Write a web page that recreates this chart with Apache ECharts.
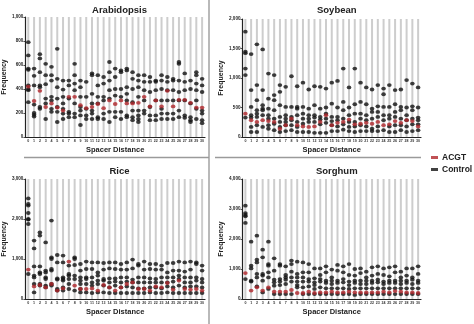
<!DOCTYPE html>
<html><head><meta charset="utf-8">
<script src="https://cdn.jsdelivr.net/npm/echarts@6/dist/echarts.min.js"></script>
<style>html,body{margin:0;padding:0;background:#fff}#c{width:474px;height:324px}</style>
</head><body><div id="c"></div>
<script>
const categories = ['0','1','2','3','4','5','6','7','8','9','10','11','12','13','14','15','16','17','18','19','20','21','22','23','24','25','26','27','28','29','30'];
const panelTitles = ['Arabidopsis','Soybean','Rice','Sorghum'];
const yMax = [1000, 2000, 3000, 4000];
const yInterval = [200, 500, 1000, 1000];

const arabidopsisControl = [
 [790,680,570,560,430,400,390,290],[570,510,430,270,200,185,170],[690,655,540,430,415,250,235],
 [610,515,440,320,280,150],[585,515,470,335,305,235,210],[735,485,415,320,250,210,125],
 [470,395,335,280,235,195,150],[470,430,320,210,195,165],[610,515,445,390,280,195,165],
 [470,415,335,250,220,180,100],[460,335,235,180,150],[530,515,360,280,220,195,150],
 [515,430,335,280,165,150],[500,445,335,305,195,150],[625,540,470,390,320,210,125],
 [570,500,400,345,210,165],[555,540,400,335,210,150],[570,555,415,360,305,180,165],
 [540,485,400,290,220,165,140],[515,470,415,335,220,180,150,125],[515,460,390,305,220,195],
 [500,460,375,250,180,140],[470,460,390,305,180,140],[515,470,400,305,235,195,150],
 [500,460,390,305,195,150],[485,470,390,305,195,150],[625,610,470,375,305,220,165],
 [530,460,390,305,180,160],[470,400,280,165,140,125],[540,515,445,390,305,235,150],
 [485,430,375,220,195,140,115]
];
const arabidopsisACGT = [420,300,385,250,280,245,220,335,335,265,240,250,275,240,305,275,305,280,280,285,335,255,305,255,385,255,310,310,285,245,245];

const soybeanControl = [
 [1785,1445,1420,1160,1050,330],[1405,795,510,370,330,170,85],[1570,880,625,455,395,340,200,85],
 [1485,795,540,480,455,370,170],[1075,650,480,370,310,200,140],[1050,710,625,455,310,225,115],
 [880,765,540,340,255,170,85],[850,510,370,310,255,200,100],[1030,510,340,285,200,115],
 [860,510,480,370,255,170,85],[920,510,395,310,225,85],[805,480,370,310,255,85],
 [860,540,370,330,255,70],[850,480,340,295,215,70],[820,500,395,310,240,70],
 [920,565,340,270,200,100],[950,500,340,285,180,100],[1160,595,455,310,215,125],
 [840,500,370,255,170,100],[1160,555,395,255,180,85],[920,595,395,310,200,100],
 [840,555,370,285,180,100],[805,480,425,310,140,100],[880,520,425,340,180,100],
 [820,725,510,370,285,115],[880,510,370,310,180,85],[795,555,425,340,200,85],
 [805,510,455,310,200,115],[965,500,370,285,180,85],[905,520,455,310,215,100],
 [840,500,330,285,215,115]
];
const soybeanACGT = [395,285,255,285,270,255,140,200,310,200,180,170,180,255,370,200,240,255,295,215,225,240,225,255,200,215,270,240,285,270,180];

const riceControl = [
 [2515,2375,2335,2150,2000,1985,1875,625],[1460,1265,815,585,540,375,165],[1665,1585,815,665,625,375,335],
 [1415,710,665,540,500,335,290],[1960,1040,1000,750,710,375,335],[1100,915,515,485,250,210],
 [1085,915,540,500,460,290,210],[835,625,585,500,375,250],[1040,1000,850,585,500,210],
 [875,710,540,460,375,250,165],[935,750,540,500,375,165],[915,750,540,415,335,150],
 [915,665,585,460,375,165],[900,735,500,460,335,165],[915,765,515,415,290,150],
 [915,750,515,435,335,150],[875,735,540,415,290,150],[915,735,540,435,315,150],
 [985,765,485,415,290,150],[875,835,540,415,265,150],[935,735,540,415,265,150],
 [875,750,515,415,290,165],[875,735,500,415,290,150],[835,735,540,415,265,150],
 [900,665,540,415,315,165],[900,710,540,435,290,150],[935,710,585,500,335,150],
 [915,685,540,415,290,150],[935,735,540,415,315,150],[915,875,540,460,315,150],
 [835,710,500,415,290,150]
];
const riceACGT = [735,315,350,290,375,210,265,935,335,250,250,265,210,350,290,210,290,375,415,250,250,210,315,290,400,235,460,250,235,250,210];

const sorghumControl = [
 [3110,2865,2800,2755,2535,665],[1910,1110,1020,610,580],[2110,1310,1220,835,720,420],
 [1645,1390,835,780,610,220],[1910,1165,1110,890,720,335],[1355,945,645,555,445,165],
 [1165,1110,665,580,465,165],[1090,800,720,645,500,165],[1280,1165,910,720,580,165],
 [1245,835,720,580,465,390],[1220,890,720,580,390,165],[1165,890,665,580,420,165],
 [1020,690,555,465,335,165],[1020,800,665,580,390,165],[1090,890,610,535,355,165],
 [980,720,610,500,355,165],[1135,945,610,535,355,165],[1090,890,665,555,355,165],
 [1165,800,580,465,335,165],[1000,780,610,535,355,135],[1020,865,610,500,355,165],
 [910,720,610,500,355,165],[1055,780,610,535,355,165],[1090,835,645,555,355,165],
 [1020,800,580,500,355,165],[1055,755,610,535,355,165],[1090,890,610,535,355,165],
 [910,720,610,500,355,165],[1020,780,610,535,355,165],[1020,720,645,500,355,165],
 [1090,835,610,535,355,165]
];
const sorghumACGT = [865,280,390,280,390,245,245,245,300,200,200,245,200,220,220,245,220,220,245,220,220,220,220,220,245,220,265,245,220,220,200];

const controlGroups = [arabidopsisControl, soybeanControl, riceControl, sorghumControl];
const acgtGroups = [arabidopsisACGT, soybeanACGT, riceACGT, sorghumACGT];

const FONT = '"Liberation Sans", Arial, sans-serif';
const grids = [
  {left: 24, top: 17, width: 181, height: 120},
  {left: 242.5, top: 19, width: 178.5, height: 118},
  {left: 24, top: 179, width: 181, height: 120},
  {left: 242.5, top: 179, width: 178.5, height: 120}
];
const nameGaps = [16, 18, 16, 18];

const option = {
  animation: false,
  backgroundColor: '#fff',
  textStyle: {fontFamily: FONT},
  title: grids.map((g, i) => ({
    text: panelTitles[i], left: g.left + g.width / 2, textAlign: 'center',
    top: i < 2 ? 0 : 161,
    textStyle: {fontSize: 9.5, fontWeight: 'bold', color: '#222', fontFamily: FONT}
  })),
  legend: {
    orient: 'vertical', left: 426, top: 148, itemWidth: 7, itemHeight: 3, itemGap: 3,
    data: [{name: 'ACGT', icon: 'rect'}, {name: 'Control', icon: 'rect'}],
    textStyle: {fontSize: 8.5, fontWeight: 'bold', color: '#222', fontFamily: FONT, padding: [0, 0, 0, -1]}
  },
  grid: grids,
  xAxis: grids.map((g, i) => ({
    type: 'category', gridIndex: i, data: categories,
    name: 'Spacer Distance', nameLocation: 'middle', nameGap: 9,
    nameTextStyle: {fontSize: 7.5, fontWeight: 'bold', color: '#222', fontFamily: FONT},
    axisLine: {lineStyle: {color: '#222', width: 1.2}},
    axisTick: {alignWithLabel: true, length: 1.5, lineStyle: {color: '#222', width: 0.8}},
    axisLabel: {fontSize: 3.6, margin: 2, color: '#333', fontWeight: 'bold', interval: 0},
    splitLine: {show: false}
  })),
  yAxis: grids.map((g, i) => ({
    type: 'value', gridIndex: i, min: 0, max: yMax[i], interval: yInterval[i],
    name: 'Frequency', nameLocation: 'middle', nameGap: nameGaps[i], nameRotate: 90,
    nameTextStyle: {fontSize: 7, fontWeight: 'bold', color: '#222', fontFamily: FONT},
    axisLine: {show: true, lineStyle: {color: '#222', width: 1.2}},
    axisTick: {show: true, length: 2, lineStyle: {color: '#222', width: 0.8}},
    axisLabel: {fontSize: 4.6, margin: 2, color: '#222', fontWeight: 'bold'},
    splitLine: {show: false}
  })),
  series: []
};

grids.forEach((g, i) => {
  option.series.push({
    type: 'bar', xAxisIndex: i, yAxisIndex: i, silent: true, z: 1,
    barWidth: 2, itemStyle: {color: '#cdcdcd'},
    data: categories.map(() => yMax[i])
  });
  const cData = [];
  controlGroups[i].forEach((vals, k) => vals.forEach(v => cData.push([k, v])));
  option.series.push({
    name: 'Control', type: 'scatter', xAxisIndex: i, yAxisIndex: i, z: 3,
    symbol: 'circle', symbolSize: [4.6, 3.8], itemStyle: {color: '#111'},
    data: cData
  });
  option.series.push({
    name: 'ACGT', type: 'scatter', xAxisIndex: i, yAxisIndex: i, z: 4,
    symbol: 'circle', symbolSize: [4.6, 3.8], itemStyle: {color: '#b0262b'},
    data: acgtGroups[i].map((v, k) => [k, v])
  });
});

option.graphic = [
  {type: 'line', shape: {x1: 209, y1: 0, x2: 209, y2: 324}, style: {stroke: '#8a8a8a', lineWidth: 1.2}, silent: true},
  {type: 'line', shape: {x1: 24, y1: 157.5, x2: 209, y2: 157.5}, style: {stroke: '#9a9a9a', lineWidth: 1.5}, silent: true},
  {type: 'line', shape: {x1: 215, y1: 157.5, x2: 421, y2: 157.5}, style: {stroke: '#9a9a9a', lineWidth: 1.5}, silent: true}
];

const chart = echarts.init(document.getElementById('c'), null, {renderer: 'canvas'});
chart.setOption(option);
</script>
</body></html>
